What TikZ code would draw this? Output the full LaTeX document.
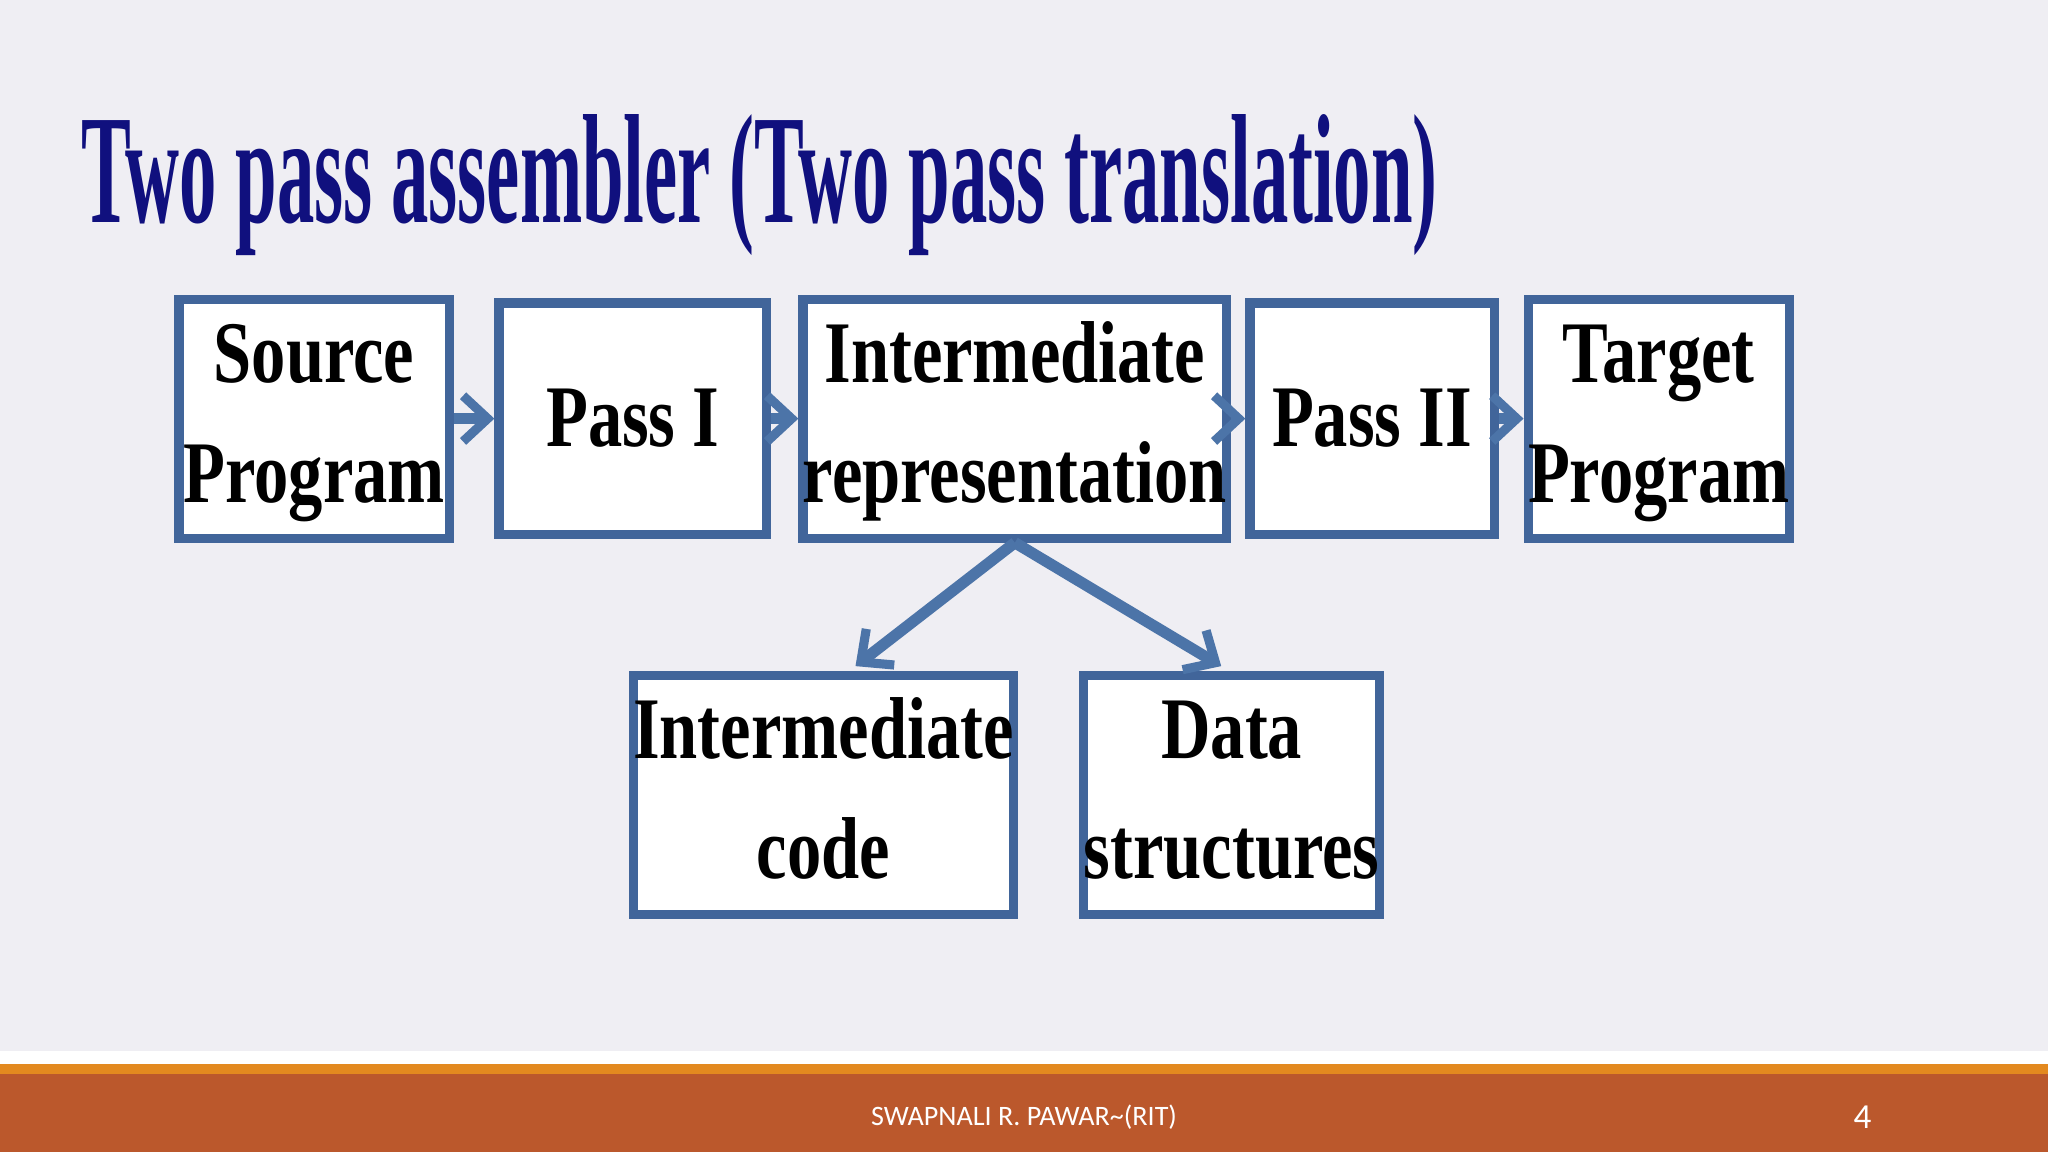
\documentclass[tikz,border=0pt]{standalone}
\usepackage{fontspec}
\usepackage{graphicx}
\setmainfont{Liberation Serif}
\newfontfamily\footfont{Carlito}
\usetikzlibrary{arrows.meta}
\definecolor{bgc}{HTML}{EFEEF3}
\definecolor{boxc}{HTML}{41659A}
\definecolor{arrc}{HTML}{4C74A8}
\definecolor{titlec}{HTML}{10107E}
\definecolor{footc}{HTML}{BB582C}
\definecolor{orangec}{HTML}{E3891F}
\newcommand\bl[2]{\fontsize{25}{34}\selectfont\bfseries\scalebox{0.78}[1]{\begin{tabular}{@{}c@{}}#1\\#2\end{tabular}}}
\newcommand\one[1]{\fontsize{25}{34}\selectfont\bfseries\scalebox{0.78}[1]{#1}}
\tikzset{
  boxst/.style={draw=boxc, line width=2.6pt, fill=white, inner sep=0pt},
  conn/.style={draw=arrc, line width=3.2pt, -{Straight Barb[length=7pt,width=13pt,line width=2.6pt]}},
}
\begin{document}
\begin{tikzpicture}[x=0.01306cm,y=-0.01306cm]
\useasboundingbox (0,0) rectangle (1568,882);
\fill[bgc] (0,0) rectangle (1568,805);
\fill[white] (0,805) rectangle (1568,815);
\fill[orangec] (0,815) rectangle (1568,822);
\fill[footc] (0,822) rectangle (1568,882);
\node[text=white, font=\footfont\fontsize{8}{9}\selectfont] (ft) at (784,855) {SWAPNALI R. PAWAR\textasciitilde(RIT)};
\node[text=white, font=\footfont\fontsize{10}{11}\selectfont] (pg) at (1426,855) {4};
\node[anchor=base west, inner sep=0pt, text=titlec] (title) at (62,170)
  {\resizebox{13.56cm}{1.08cm}{\bfseries Two pass assembler (Two pass translation)}};
\node[boxst, minimum width=207*0.01306cm, minimum height=177*0.01306cm] (src) at (240.5,320.5) {\bl{Source}{Program}};
\node[boxst, minimum width=205*0.01306cm, minimum height=177*0.01306cm] (p1) at (484.5,320.5) {\one{Pass I}};
\node[boxst, minimum width=284*0.01306cm, minimum height=177*0.01306cm] (ir) at (777,320.5) {\bl{Intermediate}{representation}};
\node[boxst, minimum width=187*0.01306cm, minimum height=177*0.01306cm] (p2) at (1050.5,320.5) {\one{Pass II}};
\node[boxst, minimum width=176*0.01306cm, minimum height=177*0.01306cm] (tg) at (1270,320.5) {\bl{Target}{Program}};
\node[boxst, minimum width=225*0.01306cm, minimum height=177*0.01306cm] (ic) at (630.5,608.5) {\bl{Intermediate}{code}};
\node[boxst, minimum width=186*0.01306cm, minimum height=177*0.01306cm] (ds) at (943,608.5) {\bl{Data}{structures}};
\draw[conn] (src.east) -- (p1.west);
\draw[conn] (p1.east) -- (ir.west);
\draw[conn] (ir.east) -- (p2.west);
\draw[conn] (p2.east) -- (tg.west);
\draw[conn] (ir.south) -- (655,510);
\draw[conn] (ir.south) -- (935,510);
\end{tikzpicture}
\end{document}
